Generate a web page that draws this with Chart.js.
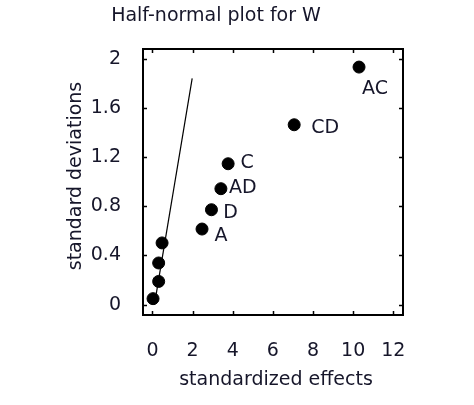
<!DOCTYPE html>
<html>
<head>
<meta charset="utf-8">
<script src="https://cdn.jsdelivr.net/npm/chart.js@4.4.1/dist/chart.umd.min.js"></script>
<style>
  html, body { margin: 0; padding: 0; background: #ffffff; }
  #wrap { width: 474px; height: 405px; position: relative; }
</style>
</head>
<body>
<div id="wrap"><canvas id="c" width="474" height="405"></canvas></div>
<script>
// ---- data ----
const effects    = [10.29, 7.06, 3.77, 3.41, 2.94, 2.47, 0.48, 0.31, 0.31, 0.03];
const deviations = [1.932, 1.463, 1.146, 0.943, 0.772, 0.615, 0.502, 0.339, 0.189, 0.049];
const pointLabels = ['AC', 'CD', 'C', 'AD', 'D', 'A', '', '', '', ''];
const refLineX = [0.1, 1.98];
const refLineY = [0.0, 1.84];
const xTicks = [0, 2, 4, 6, 8, 10, 12];
const yTicks = [0, 0.4, 0.8, 1.2, 1.6, 2];
const titleText = 'Half-normal plot for W';
const xTitle = 'standardized effects';
const yTitle = 'standard deviations';

// ---- styles ----
const FONT = '"DejaVu Sans", sans-serif';
const TEXT = '#16162a';
const labelOffsets = [[16, 22], [31, 3], [19, -1], [22, -1], [19, 3], [19, 7], [0,0], [0,0], [0,0], [0,0]];

const pts = effects.map((x, i) => ({ x: x, y: deviations[i] }));
const linePts = refLineX.map((x, i) => ({ x: x, y: refLineY[i] }));

const decor = {
  id: 'decor',
  afterDraw(chart) {
    const ctx = chart.ctx;
    const a = chart.chartArea;
    const xs = chart.scales.x, ys = chart.scales.y;
    ctx.save();
    // frame
    ctx.strokeStyle = '#000';
    ctx.lineWidth = 2;
    ctx.strokeRect(a.left, a.top, a.right - a.left, a.bottom - a.top);
    // inward ticks
    ctx.lineWidth = 1.5;
    const L = 4;
    ctx.beginPath();
    xTicks.forEach(v => {
      const px = Math.round(xs.getPixelForValue(v)) + 0.5;
      ctx.moveTo(px, a.bottom); ctx.lineTo(px, a.bottom - L);
      ctx.moveTo(px, a.top); ctx.lineTo(px, a.top + L);
    });
    yTicks.forEach(v => {
      const py = Math.round(ys.getPixelForValue(v)) + 0.5;
      ctx.moveTo(a.left, py); ctx.lineTo(a.left + L, py);
      ctx.moveTo(a.right, py); ctx.lineTo(a.right - L, py);
    });
    ctx.stroke();
    // point labels
    ctx.fillStyle = TEXT;
    ctx.font = '19px ' + FONT;
    ctx.textAlign = 'center';
    ctx.textBaseline = 'middle';
    const meta = chart.getDatasetMeta(1);
    meta.data.forEach((el, i) => {
      if (!pointLabels[i]) return;
      ctx.fillText(pointLabels[i], el.x + labelOffsets[i][0], el.y + labelOffsets[i][1]);
    });
    // titles
    ctx.textBaseline = 'alphabetic';
    ctx.fillText(titleText, 216, 21);
    ctx.fillText(xTitle, 276, 385);
    ctx.translate(81, 176);
    ctx.rotate(-Math.PI / 2);
    ctx.fillText(yTitle, 0, 0);
    ctx.restore();
  }
};

new Chart(document.getElementById('c'), {
  type: 'scatter',
  data: {
    datasets: [
      {
        type: 'line',
        data: linePts,
        borderColor: '#000',
        borderWidth: 1.2,
        pointRadius: 0,
        fill: false,
        tension: 0
      },
      {
        data: pts,
        backgroundColor: '#000',
        borderColor: '#000',
        pointRadius: 6,
        pointHoverRadius: 6
      }
    ]
  },
  options: {
    responsive: false,
    animation: false,
    events: [],
    layout: { padding: { top: 49, right: 71, left: 0, bottom: 0 } },
    plugins: { legend: { display: false }, tooltip: { enabled: false } },
    scales: {
      x: {
        type: 'linear',
        min: -0.47,
        max: 12.48,
        grid: { display: false },
        border: { display: false },
        afterBuildTicks: s => { s.ticks = xTicks.map(v => ({ value: v })); },
        afterFit: s => { s.height = 90; },
        ticks: {
          padding: 17,
          maxRotation: 0,
          autoSkip: false,
          color: TEXT,
          font: { family: FONT, size: 19 },
          callback: v => String(v)
        }
      },
      y: {
        type: 'linear',
        min: -0.084,
        max: 2.079,
        grid: { display: false },
        border: { display: false },
        afterBuildTicks: s => { s.ticks = yTicks.map(v => ({ value: v })); },
        afterFit: s => { s.width = 143; },
        ticks: {
          padding: 14,
          autoSkip: false,
          color: TEXT,
          font: { family: FONT, size: 19 },
          callback: v => String(Math.round(v * 10) / 10)
        }
      }
    }
  },
  plugins: [decor]
});
</script>
</body>
</html>
